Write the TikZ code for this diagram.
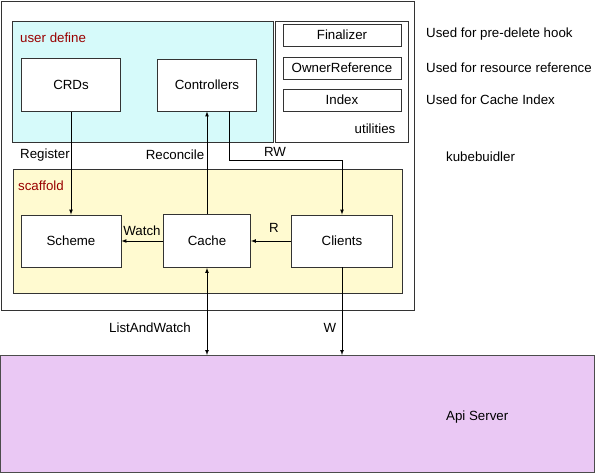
\documentclass[tikz,border=0pt]{standalone}
\usepackage{fontspec}
\setmainfont{Liberation Sans}
\begin{document}
\begin{tikzpicture}[x=1pt,y=-1pt,font=\fontsize{13.3}{15}\selectfont,
  box/.style={draw=black!80,fill=white,line width=0.8pt},
  arr/.style={-latex,line width=0.7pt},
  lbl/.style={inner sep=0pt,anchor=center},
  red/.style={text=red!60!black,inner sep=0pt,anchor=west}]
\useasboundingbox (0,0) rectangle (600,474);
\draw[line width=0.8pt,draw=black!80] (1,1) rectangle (414,310);
\draw[box,fill={rgb,255:red,214;green,250;blue,250}] (12,21) rectangle (273,142);
\draw[box] (275,21) rectangle (408,142);
\node[box,minimum width=118,minimum height=22] (fin) at (342,35) {Finalizer};
\node[box,minimum width=118,minimum height=22] (own) at (342,68) {OwnerReference};
\node[box,minimum width=118,minimum height=22] (idx) at (342,100) {Index};
\node[lbl] (util) at (375,129) {utilities};
\node[red] (ud) at (20,38) {user define};
\node[box,minimum width=99,minimum height=53] (crd) at (71,85) {CRDs};
\node[box,minimum width=99,minimum height=52] (ctl) at (207,85) {Controllers};
\draw[box,fill={rgb,255:red,255;green,250;blue,208}] (13,169) rectangle (402,293);
\node[red] (sc) at (18,186) {scaffold};
\node[box,minimum width=100,minimum height=52] (sch) at (71,241) {Scheme};
\node[box,minimum width=87,minimum height=53] (cache) at (207,241) {Cache};
\node[box,minimum width=101,minimum height=52] (cli) at (342,241) {Clients};
\node[box,draw=black!70,fill={rgb,255:red,234;green,200;blue,244},minimum width=594,minimum height=117,anchor=north west] (api) at (0,355) {};
\draw[arr] (crd) -- (sch);
\draw[arr] (cache) -- (ctl);
\draw[arr] (ctl.south -| 229,0) |- (342,160) -- (cli.north);
\draw[arr] (cli) -- (cache);
\draw[arr] (cache) -- (sch);
\draw[latex-latex,line width=0.7pt] (cache.south) -- (cache.south |- api.north);
\draw[arr] (cli.south) -- (cli.south |- api.north);
\node[lbl] at (45,155) {Register};
\node[lbl] at (175,155) {Reconcile};
\node[lbl] at (275,152) {RW};
\node[lbl] at (274,228) {R};
\node[lbl] at (142,231) {Watch};
\node[lbl] at (150,328) {ListAndWatch};
\node[lbl] at (330,328) {W};
\node[anchor=west,inner sep=0pt] at (426,34) {Used for pre-delete hook};
\node[anchor=west,inner sep=0pt] at (426,68) {Used for resource reference};
\node[anchor=west,inner sep=0pt] at (426,100) {Used for Cache Index};
\node[anchor=west,inner sep=0pt] at (446,157) {kubebuidler};
\node[anchor=west,inner sep=0pt] at (446,417) {Api Server};
\end{tikzpicture}
\end{document}
